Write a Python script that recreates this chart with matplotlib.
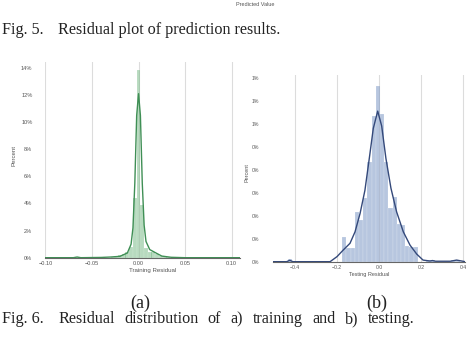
import matplotlib
matplotlib.use("Agg")
import matplotlib.pyplot as plt

# ---------------- data ----------------
# (a) training residuals: histogram (percent) and density curve
train_bin_centers = [-0.066, -0.028, -0.024, -0.020, -0.016, -0.012, -0.008, -0.004, 0.000,
                     0.004, 0.008, 0.012, 0.016, 0.020, 0.024, 0.028, 0.032]
train_heights = [0.05, 0.05, 0.1, 0.2, 0.3, 0.4, 0.8, 4.4, 13.85,
                 3.9, 0.7, 0.45, 0.4, 0.3, 0.15, 0.1, 0.05]
train_kde_x = [-0.100, -0.070, -0.066, -0.062, -0.040, -0.030, -0.020, -0.012, -0.008, -0.006,
               -0.004, -0.002, 0.000, 0.002, 0.004, 0.006, 0.008, 0.012, 0.016, 0.020,
               0.025, 0.035, 0.050, 0.080, 0.109]
train_kde_y = [0.0, 0.0, 0.05, 0.0, 0.02, 0.05, 0.1, 0.35, 1.0, 2.2,
               5.5, 10.5, 12.1, 10.5, 5.5, 2.4, 1.2, 0.6, 0.45, 0.3,
               0.12, 0.03, 0.0, 0.0, 0.0]
train_xticks = [-0.10, -0.05, 0.00, 0.05, 0.10]
train_xticklabels = ["\u22120.10", "\u22120.05", "0.00", "0.05", "0.10"]
train_yticks = [0, 2, 4, 6, 8, 10, 12, 14]
train_yticklabels = ["0%", "2%", "4%", "6%", "8%", "10%", "12%", "14%"]

# (b) testing residuals: histogram (percent) and density curve
test_bin_centers = [-0.425, -0.165, -0.145, -0.125, -0.105, -0.085, -0.065, -0.045, -0.025, -0.005,
                    0.015, 0.035, 0.055, 0.075, 0.095, 0.115, 0.135, 0.155, 0.175,
                    0.235, 0.255, 0.355, 0.375]
test_heights = [0.01, 0.106, 0.058, 0.061, 0.216, 0.181, 0.278, 0.435, 0.635, 0.764,
                0.643, 0.435, 0.235, 0.283, 0.162, 0.160, 0.068, 0.062, 0.062,
                0.006, 0.008, 0.006, 0.009]
test_kde_x = [-0.505, -0.44, -0.425, -0.41, -0.30, -0.233, -0.20, -0.17, -0.138, -0.114,
              -0.09, -0.067, -0.046, -0.027, -0.006, 0.013, 0.033, 0.057, 0.084, 0.116,
              0.148, 0.18, 0.21, 0.243, 0.255, 0.27, 0.34, 0.37, 0.40, 0.41]
test_kde_y = [0.0, 0.0, 0.006, 0.0, 0.0, 0.0, 0.022, 0.051, 0.08, 0.13,
              0.21, 0.31, 0.45, 0.58, 0.655, 0.59, 0.45, 0.32, 0.217, 0.13,
              0.072, 0.033, 0.007, 0.003, 0.005, 0.002, 0.002, 0.007, 0.002, 0.0]
test_xticks = [-0.4, -0.2, 0.0, 0.2, 0.4]
test_xticklabels = ["\u22120.4", "\u22120.2", "0.0", "0.2", "0.4"]
test_yticks = [0.0, 0.1, 0.2, 0.3, 0.4, 0.5, 0.6, 0.7, 0.8]
test_yticklabels = ["0%", "0%", "0%", "0%", "0%", "0%", "1%", "1%", "1%"]

caption5_label = "Fig. 5."
caption5_body = "Residual plot of prediction results."
caption6_label = "Fig. 6."
caption6_words = ["Residual", "distribution", "of", "a)", "training", "and", "b)", "testing."]

# ---------------- figure ----------------
W, H = 474, 344
fig = plt.figure(figsize=(W / 100, H / 100), dpi=100)
fig.patch.set_facecolor("white")

serif = ["Liberation Serif", "DejaVu Serif"]
sans = ["Liberation Sans", "DejaVu Sans"]
tick_col = "#555555"
text_col = "#222222"


def fx(px):
    return px / W


def fy(py):
    return 1 - py / H


def style(ax, xt, xtl, yt, ytl, xlim, ylim, xlabel, fs, pad_y, pad_x):
    ax.set_xlim(*xlim)
    ax.set_ylim(*ylim)
    ax.set_xticks(xt)
    ax.set_xticklabels(xtl, fontfamily=sans)
    ax.set_yticks(yt)
    ax.set_yticklabels(ytl, fontfamily=sans)
    ax.tick_params(axis="both", length=0, labelsize=fs, labelcolor=tick_col)
    ax.tick_params(axis="y", pad=pad_y)
    ax.tick_params(axis="x", pad=pad_x)
    ax.grid(axis="x", color="#dcdcdc", linewidth=0.8)
    ax.grid(axis="y", visible=False)
    ax.set_axisbelow(True)
    for s in ["top", "right", "left"]:
        ax.spines[s].set_visible(False)
    ax.spines["bottom"].set_color("#666666")
    ax.spines["bottom"].set_linewidth(0.8)
    ax.set_xlabel(xlabel, fontsize=fs + 0.3, color=tick_col, fontfamily=sans)
    ax.set_ylabel("Percent", fontsize=fs + 0.3, color=tick_col, fontfamily=sans)
    ax.set_facecolor("white")


# left axes (a)
axa = fig.add_axes([fx(45), fy(257.7), fx(240 - 45), (257.7 - 61.7) / H])
axa.bar(train_bin_centers, train_heights, width=0.0042, color="#55a868", alpha=0.42,
        edgecolor="white", linewidth=0.2)
axa.plot(train_kde_x, train_kde_y, color="#3f8f55", linewidth=1.0)
style(axa, train_xticks, train_xticklabels, train_yticks, train_yticklabels,
      (-0.1005, 0.109), (0, 14.46), "Training Residual", 4.1, 9, 2.5)
axa.xaxis.set_label_coords(0.55, -0.052)
axa.yaxis.set_label_coords(-0.145, 0.52)

# right axes (b)
axb = fig.add_axes([fx(273), fy(261.7), fx(465 - 273), (261.7 - 75) / H])
axb.bar(test_bin_centers, test_heights, width=0.02, color="#4c72b0", alpha=0.4,
        edgecolor="white", linewidth=0.3)
axb.plot(test_kde_x, test_kde_y, color="#34497a", linewidth=1.0)
style(axb, test_xticks, test_xticklabels, test_yticks, test_yticklabels,
      (-0.505, 0.41), (0, 0.812), "Testing Residual", 3.7, 10, 2.5)
axb.xaxis.set_label_coords(0.5, -0.055)
axb.yaxis.set_label_coords(-0.12, 0.48)

# page text
fs_cap = 11.6
fig.text(fx(255), fy(4), "Predicted Value", fontsize=4.0, color="#555555",
         ha="center", va="center", fontfamily=sans)
fig.text(fx(2), fy(30), caption5_label, fontsize=fs_cap, color=text_col,
         ha="left", va="center", fontfamily=serif)
fig.text(fx(58), fy(30), caption5_body, fontsize=fs_cap, color=text_col,
         ha="left", va="center", fontfamily=serif)
fig.text(fx(140), fy(303), "(a)", fontsize=13, color=text_col, ha="center", va="center",
         fontfamily=serif)
fig.text(fx(377), fy(303), "(b)", fontsize=13, color=text_col, ha="center", va="center",
         fontfamily=serif)

# justified caption line for Fig. 6
fig.text(fx(2), fy(319), caption6_label, fontsize=fs_cap, color=text_col,
         ha="left", va="center", fontfamily=serif)
renderer = fig.canvas.get_renderer()
widths = []
for w in caption6_words:
    t = fig.text(0, 0, w, fontsize=fs_cap, fontfamily=serif)
    widths.append(t.get_window_extent(renderer).width)
    t.remove()
x_start, x_end = 58.0, 415.0
gap = (x_end - x_start - sum(widths)) / (len(caption6_words) - 1)
xpos = x_start
for w, wd in zip(caption6_words, widths):
    fig.text(fx(xpos), fy(319), w, fontsize=fs_cap, color=text_col,
             ha="left", va="center", fontfamily=serif)
    xpos += wd + gap

fig.savefig("out.png", dpi=100, facecolor="white")
